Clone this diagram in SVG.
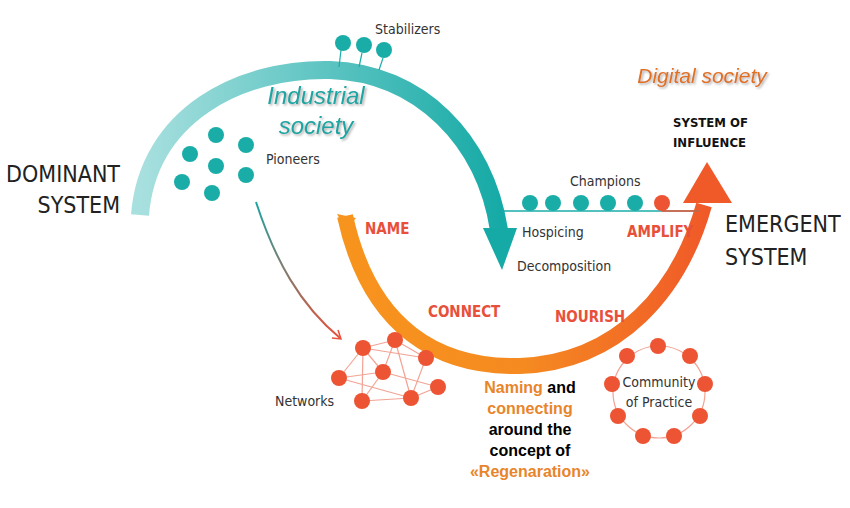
<svg xmlns="http://www.w3.org/2000/svg" width="850" height="508" viewBox="0 0 850 508">
<style>
.c{font-family:"DejaVu Sans Condensed","DejaVu Sans",sans-serif}
.lab{font-size:14px;fill:#333}
.act{font-size:15px;fill:#e8503a;font-weight:bold}
.big{font-size:23px;fill:#222}
.td{fill:#1aada8}
.rd{fill:#ec5434}
.em{font-family:"Liberation Sans",Arial,sans-serif;font-weight:bold;font-size:16px;text-anchor:middle}
.wav{fill:none;stroke:#e33;stroke-width:1;stroke-dasharray:2 1}
</style>
<defs>
<linearGradient id="gT" x1="140" y1="0" x2="500" y2="0" gradientUnits="userSpaceOnUse"><stop offset="0" stop-color="#a8e0df"/><stop offset="1" stop-color="#16aaa6"/></linearGradient>
<linearGradient id="gO" x1="345" y1="0" x2="705" y2="0" gradientUnits="userSpaceOnUse"><stop offset="0" stop-color="#f7941d"/><stop offset="0.5" stop-color="#f58a21"/><stop offset="1" stop-color="#f05a28"/></linearGradient>
<linearGradient id="gL" x1="0" y1="200" x2="0" y2="340" gradientUnits="userSpaceOnUse"><stop offset="0" stop-color="#1aa6a3"/><stop offset="1" stop-color="#e8503a"/></linearGradient>
<filter id="sh"><feDropShadow dx="1.5" dy="1.5" stdDeviation="1" flood-color="#888" flood-opacity="0.7"/></filter>
</defs>
<g id="connectors">
<path d="M140,215 C148,115 240,68 330,70 C420,73 485,140 499,230" fill="none" stroke="url(#gT)" stroke-width="18"/>
<polygon points="483,228 517,228 502,270" fill="#16aaa6"/>
<path d="M345,216 C370,330 440,368 520,366 C620,362 680,290 704,205" fill="none" stroke="url(#gO)" stroke-width="16"/>
<polygon points="337,214 356,218 346,230" fill="#f7941d"/>
<polygon points="683,203 732,203 707,162" fill="#f05a28"/>
<line x1="502" y1="211" x2="700" y2="211" stroke="#1aada8" stroke-width="1.5"/>
<line x1="662" y1="211" x2="700" y2="211" stroke="#ec5434" stroke-width="1.5"/>
<path d="M256,202 C275,260 300,305 340,338" fill="none" stroke="url(#gL)" stroke-width="2"/>
<path d="M332,338 L341,339 L338,330" fill="none" stroke="#e8503a" stroke-width="1.5"/>
<g stroke="#1aada8" stroke-width="1.2"><line x1="341" y1="50" x2="339" y2="67"/><line x1="362" y1="53" x2="359" y2="67"/><line x1="383" y1="58" x2="379" y2="70"/></g>
</g>
<g id="stabilizers"><circle cx="343" cy="43" r="8" class="td"/><circle cx="364" cy="45" r="8" class="td"/><circle cx="384" cy="50" r="8" class="td"/>
<text x="375" y="34" class="c lab">Stabilizers</text></g>
<g id="pioneers"><circle cx="216" cy="135" r="8" class="td"/><circle cx="190" cy="154" r="8" class="td"/><circle cx="216" cy="166" r="8" class="td"/><circle cx="246" cy="145" r="8" class="td"/><circle cx="246" cy="175" r="8" class="td"/><circle cx="182" cy="182" r="8" class="td"/><circle cx="212" cy="193" r="8" class="td"/>
<text x="266" y="164" class="c lab">Pioneers</text></g>
<g id="dominant"><text x="120" y="182" text-anchor="end" class="c big">DOMINANT</text><text x="120" y="213" text-anchor="end" class="c big">SYSTEM</text></g>
<g id="industrial" filter="url(#sh)"><text x="316" y="104" text-anchor="middle" font-family="Liberation Sans,Arial,sans-serif" font-style="italic" font-size="24" fill="#1aa6a3">Industrial</text><text x="316" y="134" text-anchor="middle" font-family="Liberation Sans,Arial,sans-serif" font-style="italic" font-size="24" fill="#1aa6a3">society</text></g>
<g id="digital" filter="url(#sh)"><text x="702" y="83" text-anchor="middle" font-family="Liberation Sans,Arial,sans-serif" font-style="italic" font-size="21" fill="#e07020">Digital society</text></g>
<g id="influence"><text x="673" y="127" class="c" font-size="13" font-weight="bold" fill="#111">SYSTEM OF</text><text x="673" y="147" class="c" font-size="13" font-weight="bold" fill="#111">INFLUENCE</text></g>
<g id="champions"><circle cx="530" cy="203" r="8" class="td"/><circle cx="553" cy="203" r="8" class="td"/><circle cx="581" cy="203" r="8" class="td"/><circle cx="608" cy="203" r="8" class="td"/><circle cx="635" cy="203" r="8" class="td"/><circle cx="662" cy="203" r="8" class="rd"/>
<text x="570" y="186" class="c lab">Champions</text></g>
<g id="labels"><text x="522" y="237" class="c lab">Hospicing</text><text x="517" y="271" class="c lab">Decomposition</text>
<text x="365" y="234" class="c act">NAME</text><text x="428" y="317" class="c act">CONNECT</text><text x="555" y="322" class="c act">NOURISH</text><text x="627" y="237" class="c act">AMPLIFY</text></g>
<g id="emergent"><text x="725" y="232" class="c big">EMERGENT</text><text x="725" y="265" class="c big">SYSTEM</text></g>
<g id="networks">
<g stroke="#f2a394" stroke-width="1.2"><line x1="363" y1="348" x2="395" y2="340"/><line x1="395" y1="340" x2="426" y2="358"/><line x1="363" y1="348" x2="383" y2="372"/><line x1="363" y1="348" x2="339" y2="378"/><line x1="363" y1="348" x2="362" y2="401"/><line x1="395" y1="340" x2="383" y2="372"/><line x1="395" y1="340" x2="411" y2="398"/><line x1="363" y1="348" x2="426" y2="358"/><line x1="339" y1="378" x2="383" y2="372"/><line x1="339" y1="378" x2="411" y2="398"/><line x1="383" y1="372" x2="362" y2="401"/><line x1="383" y1="372" x2="438" y2="387"/><line x1="426" y1="358" x2="411" y2="398"/><line x1="362" y1="401" x2="411" y2="398"/><line x1="411" y1="398" x2="438" y2="387"/></g>
<circle cx="363" cy="348" r="8" class="rd"/><circle cx="395" cy="340" r="8" class="rd"/><circle cx="426" cy="358" r="8" class="rd"/><circle cx="383" cy="372" r="8" class="rd"/><circle cx="339" cy="378" r="8" class="rd"/><circle cx="438" cy="387" r="8" class="rd"/><circle cx="411" cy="398" r="8" class="rd"/><circle cx="362" cy="401" r="8" class="rd"/>
<text x="275" y="406" class="c lab">Networks</text></g>
<g id="community"><circle cx="659" cy="392" r="46" fill="none" stroke="#f2a394" stroke-width="1.2"/>
<circle cx="658" cy="346" r="8" class="rd"/><circle cx="627" cy="356" r="8" class="rd"/><circle cx="690" cy="356" r="8" class="rd"/><circle cx="612" cy="384" r="8" class="rd"/><circle cx="705" cy="384" r="8" class="rd"/><circle cx="618" cy="416" r="8" class="rd"/><circle cx="700" cy="416" r="8" class="rd"/><circle cx="643" cy="436" r="8" class="rd"/><circle cx="674" cy="436" r="8" class="rd"/>
<text x="659" y="387" text-anchor="middle" class="c lab">Community</text><text x="659" y="407" text-anchor="middle" class="c lab">of Practice</text></g>
<g id="regeneration">
<text x="530" y="393" class="em"><tspan fill="#e8852a">Naming</tspan><tspan fill="#000"> and</tspan></text>
<text x="530" y="414" class="em" fill="#e8852a">connecting</text>
<text x="530" y="435" class="em" fill="#000">around the</text>
<text x="530" y="456" class="em" fill="#000">concept of</text>
<text x="530" y="477" class="em" fill="#e8852a">«Regenaration»</text>
</g>
</svg>
